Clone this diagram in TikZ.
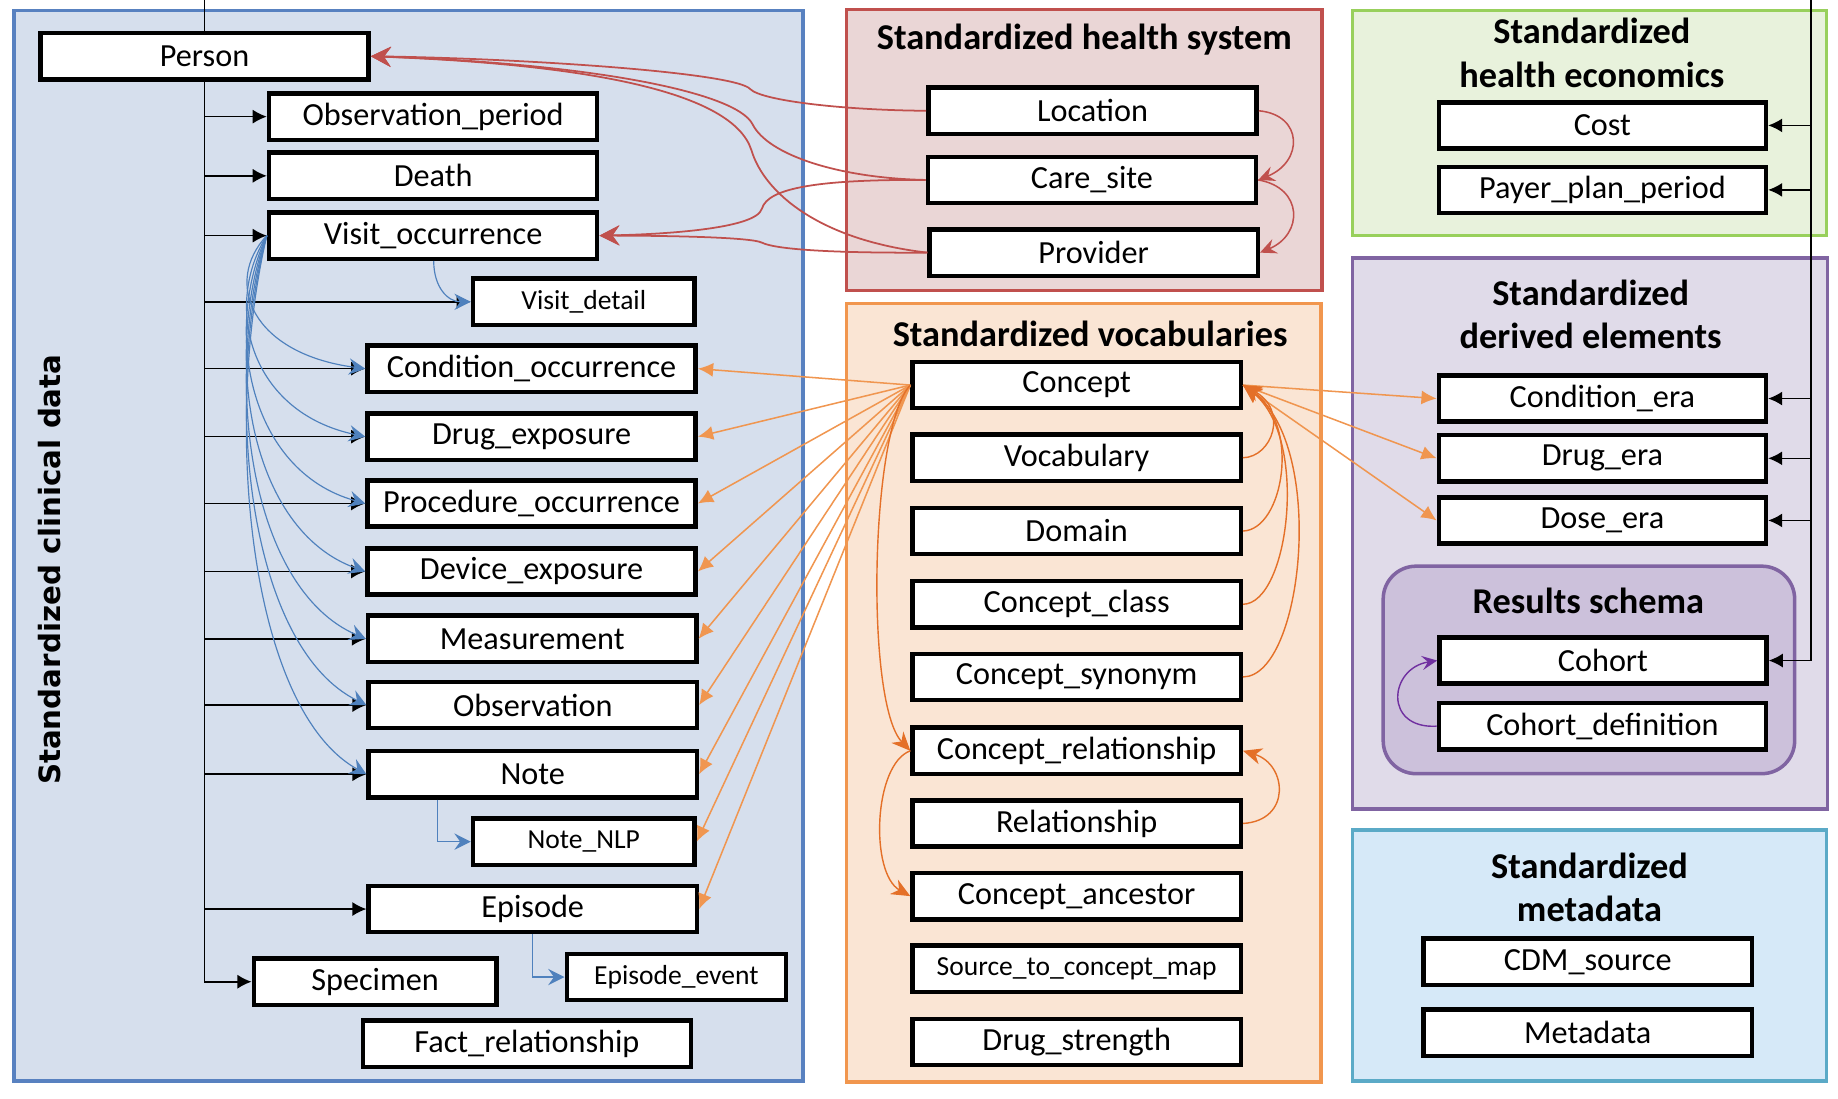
\documentclass[tikz,border=0pt]{standalone}
\usepackage{fontspec}
\setmainfont{Carlito}
\newfontfamily\vfont{DejaVu Sans}
\usetikzlibrary{arrows.meta}
\definecolor{clinF}{RGB}{214,223,237}
\definecolor{clinD}{RGB}{88,129,192}
\definecolor{hsF}{RGB}{234,214,214}
\definecolor{hsD}{RGB}{192,80,77}
\definecolor{vocF}{RGB}{250,229,212}
\definecolor{vocD}{RGB}{241,150,78}
\definecolor{ecoF}{RGB}{232,242,220}
\definecolor{ecoD}{RGB}{152,208,92}
\definecolor{derF}{RGB}{224,219,233}
\definecolor{derD}{RGB}{128,100,162}
\definecolor{resF}{RGB}{204,193,219}
\definecolor{metF}{RGB}{214,233,248}
\definecolor{metD}{RGB}{91,170,199}
\definecolor{redL}{RGB}{192,80,77}
\definecolor{bluL}{RGB}{79,129,189}
\definecolor{orL}{RGB}{240,150,80}
\definecolor{orD}{RGB}{228,112,40}
\definecolor{purL}{RGB}{112,48,160}
\begin{document}
\begin{tikzpicture}[x=1pt,y=-1pt,
  tbl/.style={draw=black, line width=3.8pt, fill=white, minimum height=39.5pt, minimum width=280pt, inner sep=0pt, font=\fontsize{27.5}{30}\selectfont},
  stbl/.style={tbl, font=\fontsize{23.5}{26}\selectfont},
  panel/.style={line width=3pt},
  ttl/.style={font=\bfseries\fontsize{31}{37}\selectfont, align=center, inner sep=0pt},
  blk/.style={line width=1.4pt, -{Latex[length=12pt,width=12pt]}},
  trunk/.style={line width=1.4pt},
  redc/.style={draw=redL, line width=1.5pt, -{Stealth[length=17pt,width=17pt,inset=6pt]}},
  redarc/.style={draw=redL, line width=1.3pt, -{Stealth[length=14pt,width=13pt,inset=5pt]}},
  bluc/.style={draw=bluL, line width=1pt, -{Stealth[length=14pt,width=14pt,inset=5pt]}},
  orc/.style={draw=orL, line width=1.3pt, -{Latex[length=13pt,width=12pt]}},
  ord/.style={draw=orD, line width=1.2pt, -{Stealth[length=16pt,width=14pt,inset=5pt]}},
  purc/.style={draw=purL, line width=1.2pt, -{Stealth[length=13pt,width=12pt,inset=5pt]}}
]
\useasboundingbox (0,0) rectangle (1568,937);
% panels
\draw[panel, draw=clinD, fill=clinF] (12,9) rectangle (685,922);
\draw[panel, draw=hsD, fill=hsF] (722,8) rectangle (1128,248);
\draw[panel, draw=vocD, fill=vocF] (722,259) rectangle (1127,923);
\draw[panel, draw=ecoD, fill=ecoF] (1154,9) rectangle (1558,201);
\draw[panel, draw=derD, fill=derF] (1154,220) rectangle (1559,690);
\draw[panel, draw=derD, fill=resF, rounded corners=28pt] (1180,483) rectangle (1531,660);
\draw[panel, draw=metD, fill=metF] (1154,708) rectangle (1558,922);
% titles
\node[rotate=90, font=\vfont\bfseries\fontsize{25}{30}\selectfont] (tclin) at (42,486) {Standardized clinical data};
\node[ttl] (ths) at (925,34) {Standardized health system};
\node[ttl] (tvoc) at (930,285) {Standardized vocabularies};
\node[ttl] (teco) at (1358,45) {Standardized\\health economics};
\node[ttl] (tder) at (1357,268) {Standardized\\derived elements};
\node[ttl] (tres) at (1355,513) {Results schema};
\node[ttl] (tmet) at (1356,757) {Standardized\\metadata};
% clinical tables
\node[tbl] (person) at (174.5,48) {Person};
\node[tbl] (obs) at (369.5,99.5) {Observation\_period};
\node[tbl] (death) at (369.5,150) {Death};
\node[tbl] (visit) at (369.5,201) {Visit\_occurrence};
\node[stbl, minimum width=189pt] (vdet) at (498,257.5) {Visit\_detail};
\node[tbl] (cond) at (453.5,314.5) {Condition\_occurrence};
\node[tbl] (drug) at (453.5,372.5) {Drug\_exposure};
\node[tbl] (proc) at (453.5,429.5) {Procedure\_occurrence};
\node[tbl] (dev) at (453.5,487.5) {Device\_exposure};
\node[tbl] (meas) at (454,545) {Measurement};
\node[tbl] (obsv) at (454.5,601.5) {Observation};
\node[tbl] (note) at (454.5,660.5) {Note};
\node[stbl, minimum width=189pt] (nlp) at (498,718) {Note\_NLP};
\node[tbl] (epi) at (454.5,775.5) {Episode};
\node[tbl, minimum width=207pt] (spec) at (320,837.5) {Specimen};
\node[stbl, minimum width=187pt] (epev) at (577,833.5) {Episode\_event};
\node[tbl] (fact) at (449.5,890.5) {Fact\_relationship};
% health system
\node[tbl] (loc) at (932,94.5) {Location};
\node[tbl] (care) at (931.5,153.5) {Care\_site};
\node[tbl] (prov) at (933,215.5) {Provider};
% vocabularies
\node[tbl] (concept) at (918.5,328.5) {Concept};
\node[tbl] (vocab) at (918.5,390.5) {Vocabulary};
\node[tbl] (domain) at (918.5,453) {Domain};
\node[tbl] (cclass) at (918.5,515.5) {Concept\_class};
\node[tbl] (csyn) at (918.5,577.5) {Concept\_synonym};
\node[tbl] (crel) at (918.5,640.5) {Concept\_relationship};
\node[tbl] (rel) at (918.5,702.5) {Relationship};
\node[tbl] (canc) at (918.5,764.5) {Concept\_ancestor};
\node[stbl] (stcm) at (918.5,826.5) {Source\_to\_concept\_map};
\node[tbl] (dstr) at (918.5,889) {Drug\_strength};
% economics / derived / results / metadata
\node[tbl, minimum width=279pt] (cost) at (1367,107) {Cost};
\node[tbl, minimum width=279pt] (payer) at (1367,162) {Payer\_plan\_period};
\node[tbl, minimum width=279pt] (cera) at (1367,340) {Condition\_era};
\node[tbl, minimum width=279pt] (dera) at (1367,391) {Drug\_era};
\node[tbl, minimum width=279pt] (dose) at (1367,444) {Dose\_era};
\node[tbl, minimum width=279pt] (cohort) at (1367.5,563.5) {Cohort};
\node[tbl, minimum width=279pt] (cdef) at (1367,619.5) {Cohort\_definition};
\node[tbl] (cdm) at (1354.5,820.5) {CDM\_source};
\node[tbl] (meta) at (1354.5,881) {Metadata};
% left trunk
\coordinate (ltop) at (174.5,0);
\coordinate (rtop) at (1545,0);
\draw[trunk] (ltop) -- (person.north);
\draw[blk] (person.south) |- (spec.west);
\foreach \t in {obs,death,visit,vdet,cond,drug,proc,dev,meas,obsv,note,epi}
  \draw[blk] (\t.west -| person.south) -- (\t.west);
% right trunk
\draw[blk] (rtop) |- (cohort.east);
\foreach \t in {cost,payer,cera,dera,dose}
  \draw[blk] (\t.east -| rtop) -- (\t.east);
% blue: visit to events
\draw[bluc] (visit.west) .. controls (190,241) and (215,302) .. (cond.west);
\draw[bluc] (visit.west) .. controls (190,261) and (213,352) .. (drug.west);
\draw[bluc] (visit.west) .. controls (190,281) and (212,402) .. (proc.west);
\draw[bluc] (visit.west) .. controls (190,301) and (212,452) .. (dev.west);
\draw[bluc] (visit.west) .. controls (190,321) and (212,502) .. (meas.west);
\draw[bluc] (visit.west) .. controls (190,341) and (212,552) .. (obsv.west);
\draw[bluc] (visit.west) .. controls (190,362) and (212,605) .. (note.west);
\draw[bluc] (visit.south) ++(0.5,0) .. controls (370,245) and (382,257.5) .. (vdet.west);
\draw[bluc] (note.south -| 373,0) |- (nlp.west);
\draw[bluc] (epi.south) |- (epev.west);
% red: health system
\draw[redc] (loc.west) .. controls (720,94) and (650,86) .. (640,76) .. controls (628,62) and (450,50) .. (person.east);
\draw[redc] (care.west) .. controls (715,152) and (655,132) .. (642,106) .. controls (628,78) and (500,54) .. (person.east);
\draw[redc] (prov.west) .. controls (700,205) and (652,165) .. (641,128) .. controls (625,78) and (500,55) .. (person.east);
\draw[redc] (care.west) .. controls (700,153) and (655,160) .. (650,178) .. controls (645,196) and (560,200) .. (visit.east);
\draw[redc] (prov.west) .. controls (700,216) and (660,212) .. (650,207) .. controls (640,202) and (560,201) .. (visit.east);
\draw[redarc] (loc.east) .. controls (1112,98) and (1112,138) .. (care.east);
\draw[redarc] (care.east) .. controls (1112,160) and (1112,200) .. (prov.east);
% orange: concept to clinical
\foreach \t in {cond,drug,proc,dev,meas,obsv,note,nlp,epi}
  \draw[orc] (concept.west) -- (\t.east);
\foreach \t in {cera,dera,dose}
  \draw[orc] (concept.east) -- (\t.west);
% orange: vocabulary internal
\draw[ord] (vocab.east) .. controls (1085,390) and (1100,350) .. (concept.east);
\draw[ord] (domain.east) .. controls (1095,452) and (1110,362) .. (concept.east);
\draw[ord] (cclass.east) .. controls (1100,515) and (1117,372) .. (concept.east);
\draw[ord] (csyn.east) .. controls (1112,577) and (1132,380) .. (concept.east);
\draw[ord] (concept.west) .. controls (742,365) and (738,600) .. (crel.west);
\draw[ord] (rel.east) .. controls (1102,700) and (1098,652) .. (crel.east);
\draw[ord] (crel.west) .. controls (745,652) and (742,745) .. (canc.west);
% purple
\draw[purc] (cdef.west) .. controls (1180,622) and (1185,570) .. (cohort.west);
\end{tikzpicture}
\end{document}
